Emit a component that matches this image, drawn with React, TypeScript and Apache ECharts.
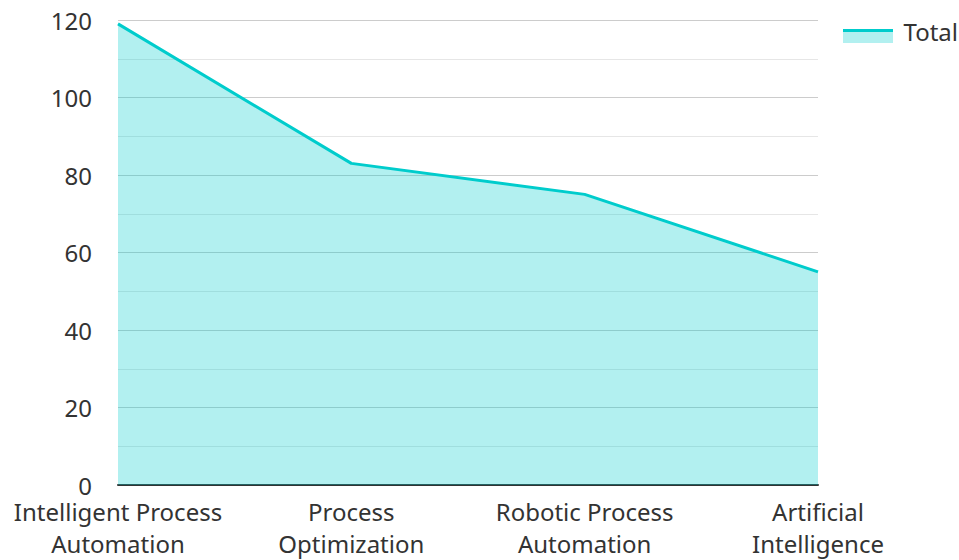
import React, { useEffect, useRef } from "react";
import * as echarts from "echarts";

const categories = [
  "Intelligent Process\nAutomation",
  "Process\nOptimization",
  "Robotic Process\nAutomation",
  "Artificial\nIntelligence",
];
const totalValues = [119, 83, 75, 55];
const seriesName = "Total";

export default function App() {
  const ref = useRef<HTMLDivElement>(null);
  useEffect(() => {
    if (!ref.current) return;
    const chart = echarts.init(ref.current, undefined, { renderer: "svg" });
    const font = "'Noto Sans', sans-serif";
    chart.setOption({
      animation: false,
      textStyle: { fontFamily: font },
      grid: { left: 118, right: 141, top: 20, bottom: 75, outerBoundsMode: "none", containLabel: false },
      legend: {
        right: 1,
        top: 17,
        padding: 0,
        icon: "rect",
        itemWidth: 50,
        itemHeight: 28,
        itemGap: 10,
        textStyle: { fontSize: 24, color: "#333", fontFamily: font },
        data: [{ name: seriesName, itemStyle: { color: "rgba(0,0,0,0)" } }],
      },
      graphic: [
        {
          type: "rect",
          left: 843,
          top: 32,
          shape: { width: 50, height: 11 },
          style: { fill: "rgba(0,204,204,0.3)" },
          z: 100,
        },
        {
          type: "rect",
          left: 843,
          top: 29,
          shape: { width: 50, height: 3 },
          style: { fill: "#00cccc" },
          z: 101,
        },
      ],
      xAxis: {
        type: "category",
        data: categories,
        boundaryGap: false,
        axisLine: { lineStyle: { color: "#333", width: 2 } },
        axisTick: { show: false },
        axisLabel: { fontSize: 24, color: "#333", margin: 10, lineHeight: 32, interval: 0, fontFamily: font },
      },
      yAxis: {
        type: "value",
        min: 0,
        max: 120,
        interval: 20,
        axisLabel: { fontSize: 24, color: "#333", margin: 26, lineHeight: 18, fontFamily: font },
        splitLine: { lineStyle: { color: "#ccc", width: 1 } },
        minorTick: { show: false, splitNumber: 2 },
        minorSplitLine: { show: true, lineStyle: { color: "#e6e6e6", width: 1 } },
      },
      series: [
        {
          name: seriesName,
          type: "line",
          data: totalValues,
          showSymbol: false,
          symbol: "none",
          lineStyle: { color: "#00cccc", width: 3 },
          itemStyle: { color: "#00cccc" },
          areaStyle: { color: "rgba(0,204,204,0.3)", opacity: 1 },
        },
      ],
    });
    return () => chart.dispose();
  }, []);
  return <div ref={ref} style={{ width: 959, height: 560, position: "absolute", left: 0, top: 0 }} />;
}
